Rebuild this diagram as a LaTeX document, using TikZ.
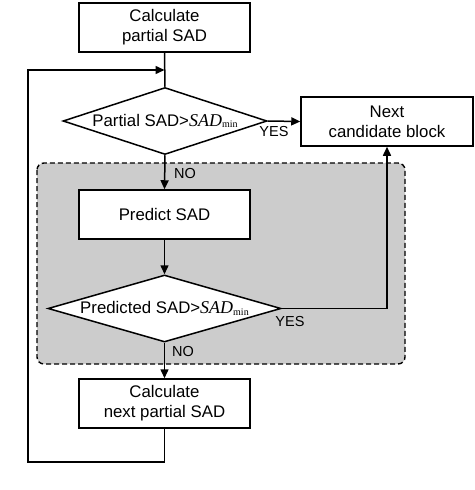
\documentclass[tikz,border=0pt]{standalone}
\usepackage{fontspec}
\setmainfont{Liberation Sans}
\newfontfamily\tnr{Liberation Serif}
\usetikzlibrary{arrows.meta,shapes.geometric}
\newcommand{\sadmin}{{\tnr\itshape\fontsize{18}{18}\selectfont SAD}\raisebox{-1.5pt}{\tnr\fontsize{10}{10}\selectfont min}}
\begin{document}
\begin{tikzpicture}[x=1pt,y=-1pt,
  line width=1.5pt,
  every node/.style={font=\fontsize{16.8}{20}\selectfont},
  procbox/.style={draw=black,fill=white,minimum width=171pt,minimum height=49pt,inner sep=0pt,align=center},
  decbox/.style={draw=black,fill=white,shape=diamond,aspect=3,minimum height=67pt,inner sep=0pt},
  arr/.style={-{Triangle[length=9pt,width=8pt]}},
  lab/.style={font=\fontsize{14.5}{15}\selectfont,inner sep=0pt}]
\useasboundingbox (0,0) rectangle (474,490);
% shaded region
\draw[line width=1.4pt,dash pattern=on 5pt off 3pt,fill=black!20,rounded corners=7pt] (37,163) rectangle (405,364);
% nodes
\node[procbox] (calc) at (164.5,27.5) {Calculate\\partial SAD};
\node[decbox,minimum width=204pt] (d1) at (165,121) {\makebox[0pt]{Partial SAD>\sadmin}};
\node[procbox,minimum width=172pt] (next) at (387,121.5) {Next\\candidate block};
\node[procbox] (pred) at (164.5,214.5) {Predict SAD};
\node[decbox,minimum width=233pt] (d2) at (164.5,308.5) {\makebox[0pt]{Predicted SAD>\sadmin}};
\node[procbox] (calcn) at (164.5,403.5) {Calculate\\next partial SAD};
\coordinate (join) at (164.5,70);
\coordinate (loopb) at (28,462);
% connectors
\draw (calc.south) -- (d1.north);
\draw[arr] (calcn.south) |- (loopb) |- (join);
\draw[arr] (d1.east) -- (next.west);
\draw[arr] (d1.south) -- (pred.north);
\draw[arr] (pred.south) -- (d2.north);
\draw[arr] (d2.east) -| (next.south);
\draw[arr] (d2.south) -- (calcn.north);
% labels
\node[lab] (yes1) at (274,132) {YES};
\node[lab] (no1) at (185,174) {NO};
\node[lab] (yes2) at (290,322) {YES};
\node[lab] (no2) at (183,351.5) {NO};
\end{tikzpicture}
\end{document}
